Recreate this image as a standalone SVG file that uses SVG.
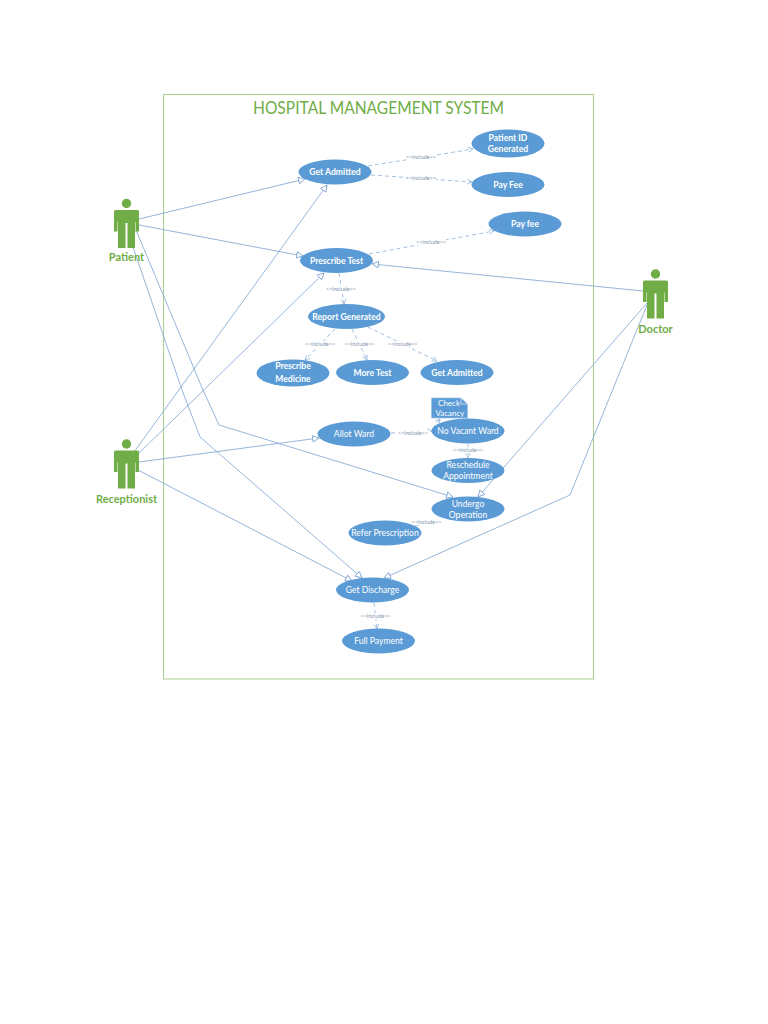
<svg xmlns="http://www.w3.org/2000/svg" width="768" height="1024" viewBox="0 0 768 1024">
<style>
text{font-family:"Lato","Open Sans","Liberation Sans",sans-serif;text-anchor:middle}
.uc{fill:#5b9bd5}
.uc-t{fill:#fff;font-size:8.6px;font-weight:700}
.uc-r{font-weight:400}
.act{fill:#70ad47}
.act-t{fill:#70ad47;font-size:11px;font-weight:700}
.assoc{fill:none;stroke:#7ba3d0;stroke-width:.8;marker-end:url(#tri)}
.inc{fill:none;stroke:#8aaed6;stroke-width:.8;stroke-dasharray:4 3;marker-end:url(#open)}
.lbl{fill:#7f93ad;font-size:5.500px}
.gap{fill:#fff}
</style>
<defs>
<marker id="tri" viewBox="0 0 10 10" refX="9" refY="5" markerWidth="8" markerHeight="8" markerUnits="userSpaceOnUse" orient="auto"><path d="M1 1L9 5L1 9Z" fill="#fff" stroke="#7ba3d0" stroke-width="1.1"/></marker>
<marker id="open" viewBox="0 0 10 10" refX="9" refY="5" markerWidth="6" markerHeight="6" markerUnits="userSpaceOnUse" orient="auto"><path d="M1 1L9 5L1 9" fill="none" stroke="#8aaed6" stroke-width="1.2"/></marker>
<g id="person"><circle cx="0" cy="-24.500" r="4.700"/><path d="M-12.500 -16.500Q-12.500 -18 -11 -18H11Q12.500 -18 12.500 -16.500V3.500H9V-6H8.500V20H1V-5H-1V20H-8.500V-6H-9V3.500H-12.500Z"/></g>
</defs>
<rect width="768" height="1024" fill="#fff"/>
<rect id="boundary" x="163.500" y="94.500" width="430" height="584.500" fill="none" stroke="#a9d18e" stroke-width="1"/>
<text x="378.500" y="113.500" fill="#70ad47" font-size="16.500" textLength="251" lengthAdjust="spacingAndGlyphs">HOSPITAL MANAGEMENT SYSTEM</text>

<g id="connectors">
<path class="assoc" d="M139 219L305 179"/>
<path class="assoc" d="M139 225L303 256"/>
<path class="assoc" d="M133 247L182 390L200 437L362 578"/>
<path class="assoc" d="M136 230L203 390L219 425L453 497"/>
<path class="assoc" d="M134 452L327 185"/>
<path class="assoc" d="M136 456L324 273"/>
<path class="assoc" d="M139 462L319 438"/>
<path class="assoc" d="M138 470L352 581"/>
<path class="assoc" d="M643 291L372 264"/>
<path class="assoc" d="M647 303L478 497"/>
<path class="assoc" d="M647 305L570 495L384 578"/>
<path class="inc" d="M368 166L473 149"/>
<path class="inc" d="M371 175L472 182"/>
<path class="inc" d="M369 254L494 231"/>
<path class="inc" d="M339 273L344 304"/>
<path class="inc" d="M335 329L305 360"/>
<path class="inc" d="M352 329L367 360"/>
<path class="inc" d="M368 327L437 361"/>
<path class="inc" d="M391 433L432 431"/>
<path class="inc" d="M433 428L440 419"/>
<path class="inc" d="M468 444L468 458"/>
<path class="inc" d="M432 521L413 527"/>
<path class="inc" d="M374 603L377 629"/>
</g>

<g id="connector-labels">
<rect class="gap" x="407" y="154" width="29" height="6"/><text class="lbl" x="421" y="159">&lt;&lt;include&gt;&gt;</text>
<rect class="gap" x="407" y="175" width="29" height="6"/><text class="lbl" x="421" y="180">&lt;&lt;include&gt;&gt;</text>
<rect class="gap" x="417" y="239" width="29" height="6"/><text class="lbl" x="431" y="244">&lt;&lt;include&gt;&gt;</text>
<rect class="gap" x="327" y="286" width="29" height="6"/><text class="lbl" x="341" y="291">&lt;&lt;include&gt;&gt;</text>
<rect class="gap" x="306" y="341" width="29" height="6"/><text class="lbl" x="320" y="346">&lt;&lt;include&gt;&gt;</text>
<rect class="gap" x="345" y="341" width="29" height="6"/><text class="lbl" x="359.500" y="346">&lt;&lt;include&gt;&gt;</text>
<rect class="gap" x="388" y="341" width="29" height="6"/><text class="lbl" x="402.500" y="346">&lt;&lt;include&gt;&gt;</text>
<rect class="gap" x="396" y="430" width="34" height="6"/><text class="lbl" x="413" y="435">&lt;&lt;include&gt;&gt;</text>
<rect class="gap" x="453" y="447" width="29" height="6"/><text class="lbl" x="468" y="452">&lt;&lt;include&gt;&gt;</text>
<rect class="gap" x="412" y="519" width="29" height="6"/><text class="lbl" x="426.500" y="523.500">&lt;&lt;include&gt;&gt;</text>
<rect class="gap" x="361" y="613" width="29" height="6"/><text class="lbl" x="375.500" y="617.500">&lt;&lt;include&gt;&gt;</text>
</g>

<g id="actor-patient"><use href="#person" x="126.500" y="228" class="act"/><text class="act-t" x="126.500" y="261">Patient</text></g>
<g id="actor-receptionist"><use href="#person" x="126.500" y="468.500" class="act"/><text class="act-t" x="126.500" y="503">Receptionist</text></g>
<g id="actor-doctor"><use href="#person" x="655.500" y="298.500" class="act"/><text class="act-t" x="655.500" y="333">Doctor</text></g>

<g id="uc-get-admitted"><ellipse class="uc" cx="335" cy="172" rx="36.500" ry="12.500"/><text class="uc-t" x="335" y="175">Get Admitted</text></g>
<g id="uc-patient-id"><ellipse class="uc" cx="508" cy="143.500" rx="36.500" ry="14"/><text class="uc-t" x="508" y="141">Patient ID</text><text class="uc-t" x="508" y="152">Generated</text></g>
<g id="uc-pay-fee"><ellipse class="uc" cx="508" cy="184.500" rx="36.500" ry="12.500"/><text class="uc-t" x="508" y="187.500">Pay Fee</text></g>
<g id="uc-pay-fee-2"><ellipse class="uc" cx="525" cy="224" rx="36.500" ry="12.500"/><text class="uc-t" x="525" y="227">Pay fee</text></g>
<g id="uc-prescribe-test"><ellipse class="uc" cx="336.500" cy="260.500" rx="36.500" ry="12.500"/><text class="uc-t" x="336.500" y="263.500">Prescribe Test</text></g>
<g id="uc-report"><ellipse class="uc" cx="346.500" cy="316.500" rx="38.500" ry="12.500"/><text class="uc-t" x="346.500" y="319.500">Report Generated</text></g>
<g id="uc-medicine"><ellipse class="uc" cx="293" cy="373" rx="36.500" ry="13.500"/><text class="uc-t" x="293" y="369">Prescribe</text><text class="uc-t" x="293" y="381.500">Medicine</text></g>
<g id="uc-more-test"><ellipse class="uc" cx="372.500" cy="372.500" rx="36.500" ry="12.500"/><text class="uc-t" x="372.500" y="375.500">More Test</text></g>
<g id="uc-get-admitted-2"><ellipse class="uc" cx="457" cy="372.500" rx="36.500" ry="12.500"/><text class="uc-t" x="457" y="375.500">Get Admitted</text></g>
<g id="note-check-vacancy"><path d="M431.500 398H461L467.500 404V418H431.500Z" fill="#5b9bd5" stroke="#9dc3e6" stroke-width=".8"/><path d="M461 398V404H467.500" fill="none" stroke="#fff" stroke-width=".6"/><text class="uc-t uc-r" x="449" y="406" style="font-size:8px">Check</text><text class="uc-t uc-r" x="450" y="416" style="font-size:8px">Vacancy</text></g>
<g id="uc-allot"><ellipse class="uc" cx="354" cy="434" rx="36.500" ry="12.500"/><text class="uc-t uc-r" x="354" y="437">Allot Ward</text></g>
<g id="uc-no-vacant"><ellipse class="uc" cx="468" cy="431" rx="36.500" ry="12.500"/><text class="uc-t uc-r" x="468" y="434">No Vacant Ward</text></g>
<g id="uc-reschedule"><ellipse class="uc" cx="468" cy="470.500" rx="36.500" ry="12.500"/><text class="uc-t uc-r" x="468" y="468">Reschedule</text><text class="uc-t uc-r" x="468" y="479">Appointment</text></g>
<g id="uc-undergo"><ellipse class="uc" cx="468" cy="509" rx="36.500" ry="12.500"/><text class="uc-t uc-r" x="468" y="507">Undergo</text><text class="uc-t uc-r" x="468" y="518">Operation</text></g>
<g id="uc-refer"><ellipse class="uc" cx="385" cy="533" rx="36.500" ry="12.500"/><text class="uc-t uc-r" x="385" y="536">Refer Prescription</text></g>
<g id="uc-discharge"><ellipse class="uc" cx="372.500" cy="590" rx="36.500" ry="12.500"/><text class="uc-t uc-r" x="372.500" y="593">Get Discharge</text></g>
<g id="uc-payment"><ellipse class="uc" cx="378.500" cy="641" rx="36.500" ry="12.500"/><text class="uc-t uc-r" x="378.500" y="644">Full Payment</text></g>
</svg>
